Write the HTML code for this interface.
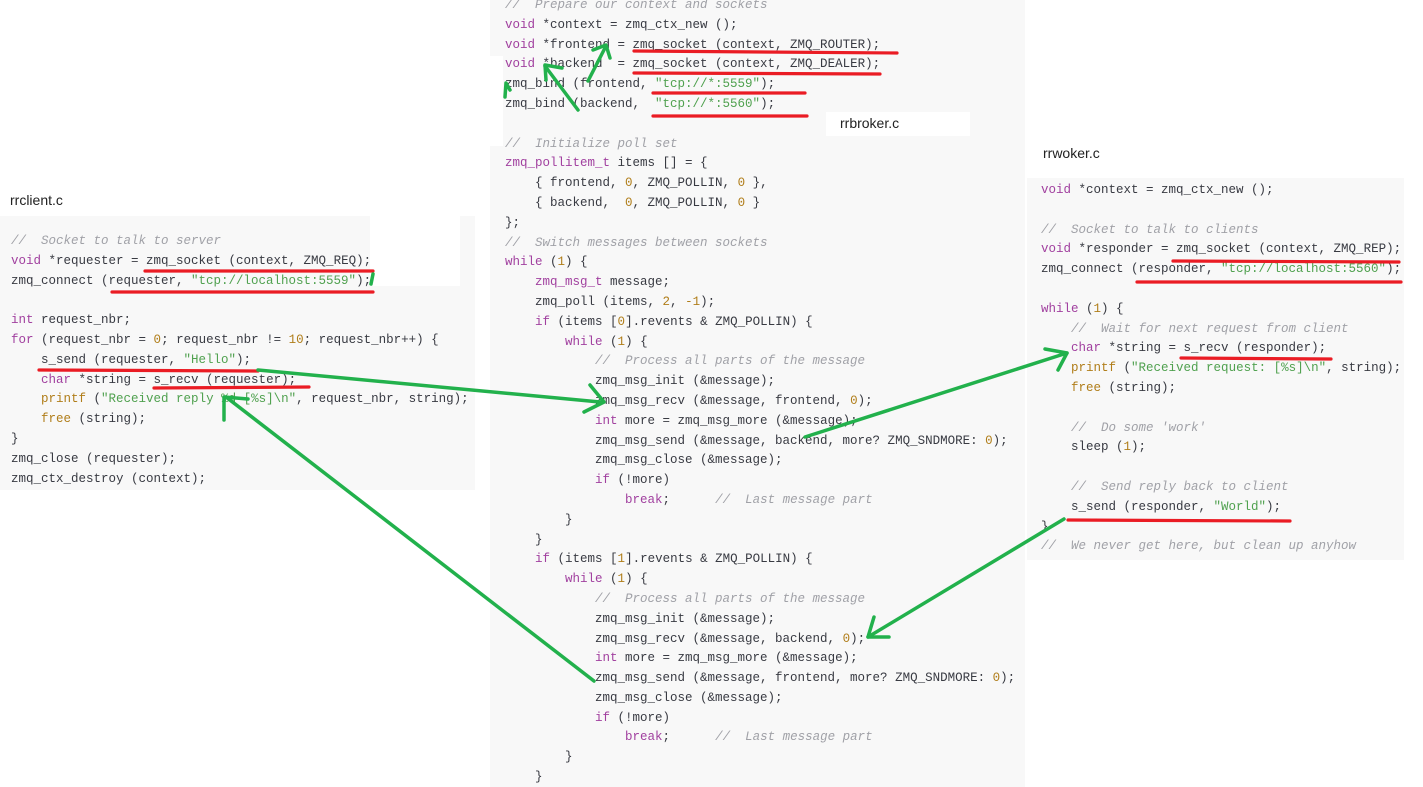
<!DOCTYPE html>
<html><head><meta charset="utf-8">
<style>
html,body{margin:0;padding:0;background:#fff;width:1423px;height:787px;overflow:hidden;position:relative}
.p{position:absolute;background:#f8f8f8}
pre{position:absolute;margin:0;font-family:"Liberation Mono",monospace;font-size:12.5px;line-height:19.8px;color:#383a42;white-space:pre}
.k{color:#a1409f}.c{color:#a0a1a7;font-style:italic}.s{color:#50a14f}.n{color:#b07d19}.f{color:#b07d19}
.lbl{position:absolute;font-family:"Liberation Sans",sans-serif;font-size:14px;color:#222}
svg{position:absolute;left:0;top:0}
</style></head><body>
<div class="p" style="left:0;top:216px;width:475px;height:274px"></div>
<div class="p" style="left:490px;top:0;width:535px;height:787px"></div>
<div class="p" style="left:1027px;top:178px;width:377px;height:382px"></div>
<div style="position:absolute;left:370px;top:216px;width:90px;height:70px;background:#fff"></div>
<div style="position:absolute;left:490px;top:56px;width:13px;height:90px;background:#fff"></div>
<div class="lbl" style="left:10px;top:192px">rrclient.c</div>
<div style="position:absolute;left:826px;top:112px;width:144px;height:24px;background:#fff"></div>
<div class="lbl" style="left:840px;top:115px">rrbroker.c</div>
<div class="lbl" style="left:1043px;top:145px">rrwoker.c</div>

<pre style="left:11px;top:232px"><span class="c">//  Socket to talk to server</span>
<span class="k">void</span> *requester = zmq_socket (context, ZMQ_REQ);
zmq_connect (requester, <span class="s">"tcp://localhost:5559"</span>);

<span class="k">int</span> request_nbr;
<span class="k">for</span> (request_nbr = <span class="n">0</span>; request_nbr != <span class="n">10</span>; request_nbr++) {
    s_send (requester, <span class="s">"Hello"</span>);
    <span class="k">char</span> *string = s_recv (requester);
    <span class="f">printf</span> (<span class="s">"Received reply %d [%s]\n"</span>, request_nbr, string);
    <span class="f">free</span> (string);
}
zmq_close (requester);
zmq_ctx_destroy (context);</pre>

<pre style="left:505px;top:-4px"><span class="c">//  Prepare our context and sockets</span>
<span class="k">void</span> *context = zmq_ctx_new ();
<span class="k">void</span> *frontend = zmq_socket (context, ZMQ_ROUTER);
<span class="k">void</span> *backend  = zmq_socket (context, ZMQ_DEALER);
zmq_bind (frontend, <span class="s">"tcp://*:5559"</span>);
zmq_bind (backend,  <span class="s">"tcp://*:5560"</span>);

<span class="c">//  Initialize poll set</span>
<span class="k">zmq_pollitem_t</span> items [] = {
    { frontend, <span class="n">0</span>, ZMQ_POLLIN, <span class="n">0</span> },
    { backend,  <span class="n">0</span>, ZMQ_POLLIN, <span class="n">0</span> }
};
<span class="c">//  Switch messages between sockets</span>
<span class="k">while</span> (<span class="n">1</span>) {
    <span class="k">zmq_msg_t</span> message;
    zmq_poll (items, <span class="n">2</span>, <span class="n">-1</span>);
    <span class="k">if</span> (items [<span class="n">0</span>].revents &amp; ZMQ_POLLIN) {
        <span class="k">while</span> (<span class="n">1</span>) {
            <span class="c">//  Process all parts of the message</span>
            zmq_msg_init (&amp;message);
            zmq_msg_recv (&amp;message, frontend, <span class="n">0</span>);
            <span class="k">int</span> more = zmq_msg_more (&amp;message);
            zmq_msg_send (&amp;message, backend, more? ZMQ_SNDMORE: <span class="n">0</span>);
            zmq_msg_close (&amp;message);
            <span class="k">if</span> (!more)
                <span class="k">break</span>;      <span class="c">//  Last message part</span>
        }
    }
    <span class="k">if</span> (items [<span class="n">1</span>].revents &amp; ZMQ_POLLIN) {
        <span class="k">while</span> (<span class="n">1</span>) {
            <span class="c">//  Process all parts of the message</span>
            zmq_msg_init (&amp;message);
            zmq_msg_recv (&amp;message, backend, <span class="n">0</span>);
            <span class="k">int</span> more = zmq_msg_more (&amp;message);
            zmq_msg_send (&amp;message, frontend, more? ZMQ_SNDMORE: <span class="n">0</span>);
            zmq_msg_close (&amp;message);
            <span class="k">if</span> (!more)
                <span class="k">break</span>;      <span class="c">//  Last message part</span>
        }
    }</pre>

<pre style="left:1041px;top:181px"><span class="k">void</span> *context = zmq_ctx_new ();

<span class="c">//  Socket to talk to clients</span>
<span class="k">void</span> *responder = zmq_socket (context, ZMQ_REP);
zmq_connect (responder, <span class="s">"tcp://localhost:5560"</span>);

<span class="k">while</span> (<span class="n">1</span>) {
    <span class="c">//  Wait for next request from client</span>
    <span class="k">char</span> *string = s_recv (responder);
    <span class="f">printf</span> (<span class="s">"Received request: [%s]\n"</span>, string);
    <span class="f">free</span> (string);

    <span class="c">//  Do some 'work'</span>
    sleep (<span class="n">1</span>);

    <span class="c">//  Send reply back to client</span>
    s_send (responder, <span class="s">"World"</span>);
}
<span class="c">//  We never get here, but clean up anyhow</span></pre>

<svg width="1423" height="787" viewBox="0 0 1423 787">
<g stroke="#ea1c24" stroke-width="3.2" stroke-linecap="round" fill="none">
<line x1="145" y1="271" x2="373" y2="271"/>
<line x1="112" y1="292" x2="373" y2="292"/>
<line x1="39" y1="370" x2="258" y2="371"/>
<line x1="154" y1="388" x2="309" y2="387"/>
<line x1="634" y1="51" x2="897" y2="53"/>
<line x1="634" y1="73" x2="880" y2="74"/>
<line x1="653" y1="93" x2="805" y2="93"/>
<line x1="653" y1="116" x2="807" y2="116"/>
<line x1="1173" y1="261" x2="1399" y2="262"/>
<line x1="1137" y1="282" x2="1401" y2="282"/>
<line x1="1181" y1="358" x2="1331" y2="359"/>
<line x1="1068" y1="520" x2="1290" y2="521"/>
</g>
<g stroke="#22b14c" stroke-width="3.5" stroke-linecap="round" stroke-linejoin="round" fill="none">
<polyline points="258,370 600,402"/>
<polyline points="590,385 604,402 584,412"/>
<polyline points="805,437 1067,353"/>
<polyline points="1045,349 1067,353 1058,370"/>
<polyline points="1064,519 868,637"/>
<polyline points="874,617 868,637 889,637"/>
<polyline points="594,681 226,397"/>
<polyline points="224,420 224,397 248,399"/>
<polyline points="588,81 606,46"/>
<polyline points="593,50 606,45 610,58"/>
<polyline points="578,110 545,66"/>
<polyline points="546,80 545,65 562,68"/>
<polyline points="505,97 506,83 510,90"/>
<polyline points="371,284 373,274"/>
</g>
</svg>
</body></html>
